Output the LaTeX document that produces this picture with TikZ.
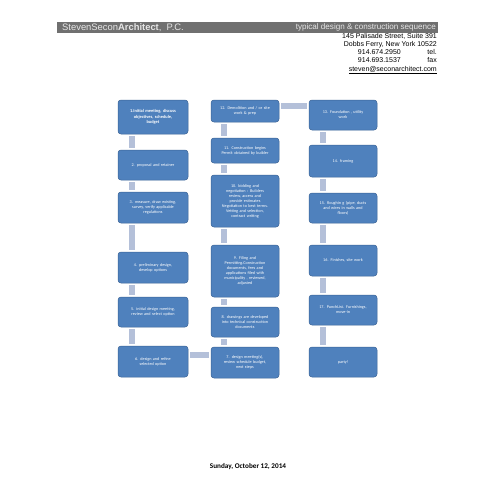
\documentclass[tikz,border=0pt]{standalone}
\usepackage{fontspec}
\setmainfont{Carlito}
\newfontfamily\arialf{Liberation Sans}
\definecolor{boxblue}{HTML}{4F81BD}
\definecolor{boxedge}{HTML}{3A6396}
\definecolor{connc}{RGB}{180,192,217}
\definecolor{barc}{HTML}{707070}
\definecolor{bartext}{HTML}{E6E6E6}
\tikzset{
  box/.style={rectangle, rounded corners=3pt, fill=boxblue, draw=boxedge, line width=0.5pt,
    text=white, align=center, inner sep=1pt, font=\fontsize{4.2}{5}\selectfont},
  lbox/.style={box, minimum width=70pt, text width=64pt},
  mbox/.style={box, minimum width=68pt, text width=62pt},
  conn/.style={draw=connc, line width=6pt, shorten <=2pt, shorten >=2pt},
  addr/.style={anchor=base east, inner sep=0pt, font=\arialf\fontsize{7}{7.5}\selectfont}
}
\begin{document}
\begin{tikzpicture}[x=1pt,y=-1pt]
\useasboundingbox[fill=white] (0,0) rectangle (495,495);
% header bar
\fill[barc] (57,22) rectangle (438,33);
\node[anchor=west, inner sep=0pt, text=bartext, font=\arialf\fontsize{9.4}{10}\selectfont] (firm) at (62,27.5) {StevenSecon\textbf{Architect},\ \ P.C.};
\node[anchor=east, inner sep=0pt, text=bartext, font=\arialf\fontsize{8.1}{9}\selectfont] (title) at (436,27.5) {typical design \& construction sequence};
\node[addr] (a1) at (437,39) {145 Palisade Street, Suite 391};
\node[addr] (a2) at (437,47) {Dobbs Ferry, New York 10522};
\node[addr] (a3) at (401,55) {914.674.2950};
\node[addr] (a3b) at (437,55) {tel.};
\node[addr] (a4) at (401,63) {914.693.1537};
\node[addr] (a4b) at (437,63) {fax};
\node[addr] (a5) at (437,71) {\underline{steven@seconarchitect.com}};
% left column
\node[lbox, minimum height=34pt, font=\bfseries\fontsize{4.4}{5.2}\selectfont] (b1) at (153,117) {1.Initial meeting, discuss\\objectives, schedule,\\budget};
\node[lbox, minimum height=30pt] (b2) at (153,165) {2. proposal and retainer};
\node[lbox, minimum height=31pt] (b3) at (153,207.5) {3. measure, draw existing,\\survey, verify applicable\\regulations};
\node[lbox, minimum height=31pt] (b4) at (153,267.5) {4. preliminary design,\\develop options};
\node[lbox, minimum height=30pt] (b5) at (153,312) {5. initial design meeting,\\review and select option};
\node[lbox, minimum height=31pt] (b6) at (153,361.5) {6. design and refine\\selected option};
% middle column
\node[mbox, minimum height=31pt] (b7) at (245,362.5) {7. design meeting(s),\\review schedule budget,\\next steps};
\node[mbox, minimum height=30pt] (b8) at (245,322) {8. drawings are developed\\into technical construction\\documents};
\node[mbox, minimum height=52pt] (b9) at (245,271) {9. Filing and\\Permitting.Construction\\documents, fees and\\applications filed with\\municipality , reviewed,\\adjusted};
\node[mbox, minimum height=52pt] (b10) at (245,201) {10. bidding and\\negotiation : Builders\\review, access and\\provide estimates\\Negotiation to best terms.\\Vetting and selection,\\contract writing};
\node[mbox, minimum height=25pt] (b11) at (245,150.5) {11. Construction begins\\Permit obtained by builder};
\node[mbox, minimum height=22pt] (b12) at (245,111) {12. Demolition and / or site\\work \& prep};
% right column
\node[mbox, minimum height=30pt] (b13) at (343,115) {13. Foundation , utility\\work};
\node[mbox, minimum height=32pt] (b14) at (343,161) {14. framing};
\node[mbox, minimum height=30pt] (b15) at (343,208) {15. Roughin g (pipe, ducts\\and wires in walls and\\floors)};
\node[mbox, minimum height=31pt] (b16) at (343,260.5) {16. Finishes, site work};
\node[mbox, minimum height=30pt] (b17) at (343,310) {17. PunchList. Furnishings,\\move-in};
\node[mbox, minimum height=30pt] (b18) at (343,362) {party!};
% connectors
\draw[conn] ([xshift=-21pt]b1.south) -- ([xshift=-21pt]b2.north);
\draw[conn] ([xshift=-21pt]b2.south) -- ([xshift=-21pt]b3.north);
\draw[conn] ([xshift=-21pt]b3.south) -- ([xshift=-21pt]b4.north);
\draw[conn] ([xshift=-21pt]b4.south) -- ([xshift=-21pt]b5.north);
\draw[conn] ([xshift=-21pt]b5.south) -- ([xshift=-21pt]b6.north);
\coordinate (h1) at ([yshift=7pt]b6.east);
\draw[conn] (h1) -- (b7.west |- h1);
\draw[conn] ([xshift=-21pt]b7.north) -- ([xshift=-21pt]b8.south);
\draw[conn] ([xshift=-21pt]b8.north) -- ([xshift=-21pt]b9.south);
\draw[conn] ([xshift=-21pt]b9.north) -- ([xshift=-21pt]b10.south);
\draw[conn] ([xshift=-21pt]b10.north) -- ([xshift=-21pt]b11.south);
\draw[conn] ([xshift=-21pt]b11.north) -- ([xshift=-21pt]b12.south);
\coordinate (h2) at ([yshift=5.5pt]b12.east);
\draw[conn] (h2) -- (b13.west |- h2);
\draw[conn] ([xshift=-20.5pt]b13.south) -- ([xshift=-20.5pt]b14.north);
\draw[conn] ([xshift=-20.5pt]b14.south) -- ([xshift=-20.5pt]b15.north);
\draw[conn] ([xshift=-20.5pt]b15.south) -- ([xshift=-20.5pt]b16.north);
\draw[conn] ([xshift=-20.5pt]b16.south) -- ([xshift=-20.5pt]b17.north);
\draw[conn] ([xshift=-20.5pt]b17.south) -- ([xshift=-20.5pt]b18.north);
% footer
\node[inner sep=0pt, font=\bfseries\fontsize{7.2}{8}\selectfont] (date) at (248,467) {Sunday, October 12, 2014};
\end{tikzpicture}
\end{document}
